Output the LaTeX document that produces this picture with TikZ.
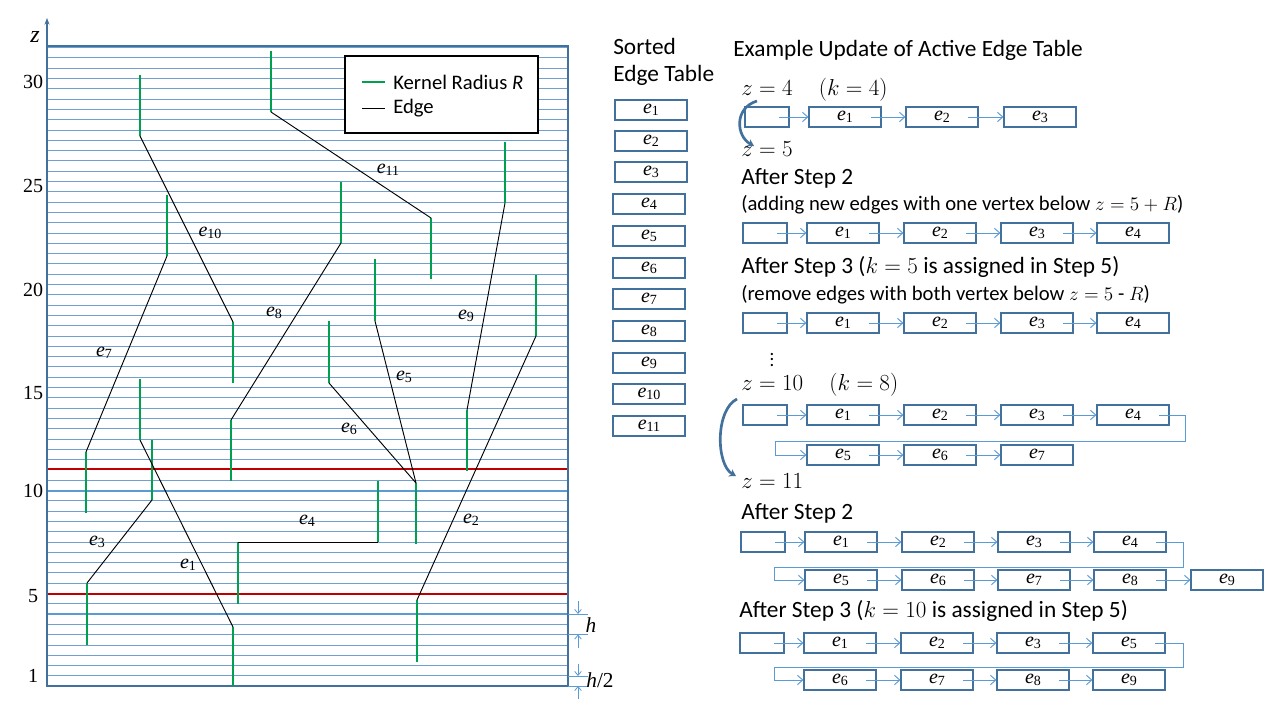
\documentclass[tikz,border=0pt]{standalone}
\usepackage{fontspec}
\setmainfont{Carlito}
\newfontfamily\tms{Liberation Serif}
\usetikzlibrary{arrows.meta}
\definecolor{gridc}{HTML}{6FA0D0}
\definecolor{framec}{HTML}{41719C}
\definecolor{thickb}{HTML}{5B9BD5}
\definecolor{redc}{HTML}{C00000}
\definecolor{greenc}{HTML}{00A050}
\newcommand\ee[1]{{\tms\fontsize{15}{15}\selectfont\itshape e\/}\raisebox{-0.35ex}{\tms\fontsize{10.5}{11}\selectfont #1}}
\tikzset{
 ebox/.style={draw=framec,line width=0.8pt,minimum width=54pt,minimum height=15pt,inner sep=0pt},
 hbox/.style={ebox,minimum width=33pt},
 arr/.style={draw=thickb,line width=0.7pt,-{Straight Barb[length=4pt,width=7pt]}},
 curv/.style={draw=framec,line width=2pt,-{Stealth[length=5pt,width=6pt]}},
 kr/.style={draw=greenc,line width=0.8pt},
 edg/.style={draw=black,line width=0.7pt},
 elab/.style={},
 txt/.style={font=\fontsize{17.5}{19}\selectfont,anchor=west,inner sep=0pt},
 stxt/.style={font=\fontsize{15.5}{17}\selectfont,anchor=west,inner sep=0pt},
 mtxt/.style={font=\fontsize{16}{17}\selectfont,anchor=west,inner sep=0pt},
 num/.style={font=\tms\fontsize{15}{15}\selectfont},
 harr/.style={draw=thickb,line width=0.6pt,-{Straight Barb[length=3pt,width=5pt]}},
}
\newcommand\lrow[3]{\foreach \cx/\lab [count=\i] in {#3} {\node[ebox] (#1\i) at (\cx,#2) {\ee{\lab}};}}
\begin{document}
\begin{tikzpicture}[x=0.75pt,y=-0.75pt]
\useasboundingbox[fill=white] (0,0) rectangle (1280,720);
% grid
\foreach \k in {0,...,62} {\draw[gridc,line width=0.35pt] (47,686-10.3*\k) -- (568,686-10.3*\k);}
\draw[thickb,line width=2.2pt] (47,491) -- (568,491);
\draw[thickb,line width=2.2pt] (47,614) -- (568,614);
\draw[redc,line width=2.2pt] (47,469) -- (568,469);
\draw[redc,line width=2.2pt] (47,594) -- (568,594);
\draw[framec,line width=1.5pt] (47,46) rectangle (568,686);
\coordinate (ax0) at (47,686); \coordinate (ax1) at (47,18);
\draw[framec,line width=1pt,-{Stealth[length=5pt]}] (ax0) -- (ax1);
\node[font=\tms\fontsize{18}{18}\itshape\selectfont] (zl) at (35,37) {z};
\foreach \v/\y in {30/82,25/186,20/290,15/393,10/491,5/596,1/676} {\node[num] (n\v) at (33,\y) {\v};}
% h marks
\foreach \y in {614,634.5,676,686} {\draw[thickb,line width=0.6pt] (568,\y) -- (588,\y);}
\coordinate (ha) at (578,601); \coordinate (hb) at (578,614);
\coordinate (hc) at (578,648); \coordinate (hd) at (578,634.5);
\coordinate (hh1) at (578,664); \coordinate (hh2) at (578,676);
\coordinate (hh3) at (578,699); \coordinate (hh4) at (578,686);
\draw[harr] (ha) -- (hb); \draw[harr] (hc) -- (hd);
\draw[harr] (hh1) -- (hh2); \draw[harr] (hh3) -- (hh4);
\node[font=\tms\fontsize{16}{16}\itshape\selectfont] (hl) at (591,625) {h};
\node[font=\tms\fontsize{16}{16}\selectfont] (h2l) at (600,680) {\itshape h\upshape/2};
% kernel radius (green)
\foreach \x/\a/\b in {140/379/440, 233/627/686, 87/583/645, 152/440/500, 86/452/513, 167/195/256,
 140/75/136, 233/322/383, 231/420/481, 341/182/243, 271/51/112, 431/218/279, 467/410/471, 505/142/203,
 417/600/662, 536/275/336, 238/542/604, 378/481/542, 375/259/321, 416/483/544, 329/321/383}
 {\draw[kr] (\x,\a) -- (\x,\b);}
% edges
\foreach \xa/\ya/\xb/\yb in {140/440/233/627, 87/583/152/500, 86/452/167/256, 140/136/233/322,
 231/420/341/243, 271/112/431/218, 467/410/505/203, 417/600/536/336, 238/542/378/542,
 375/321/416/483, 329/383/416/483}
 {\draw[edg] (\xa,\ya) -- (\xb,\yb);}
\foreach \i/\x/\y in {1/188/565, 2/471/520, 3/97/542, 4/307/521, 5/404/377, 6/349/429, 7/104/353, 8/274/313, 9/466/316, 10/210/233, 11/388/170}
 {\node[elab] (el\i) at (\x,\y) {\ee{\i}};}
% legend
\draw[black,line width=0.8pt,fill=white] (345,56) rectangle (538,133);
\draw[kr] (362,82) -- (385,82); \draw[edg] (362,108) -- (385,108);
\node[txt,font=\fontsize{15.5}{16}\selectfont] (lg1) at (393,82) {Kernel Radius \textit{R}};
\node[txt,font=\fontsize{15.5}{16}\selectfont] (lg2) at (393,108) {Edge};
% sorted table
\node[txt] (st1) at (613,46) {Sorted};
\node[txt] (st2) at (613,75) {Edge Table};
\foreach \i/\x/\y in {1/651/110,2/651/141,3/651/172,4/649/204,5/649/236,6/649/268,7/649/299,8/649/331,9/649/363,10/649/394,11/649/426}
 {\node[ebox] (s\i) at (\x,\y) {\ee{\i}};}
% active table
\node[txt] (t0) at (733,50) {Example Update of Active Edge Table};
\node[mtxt] (t1) at (741,90) {$z=4\quad\ (k=4)$};
\node[mtxt] (t2) at (741,149) {$z=5$};
\coordinate (c1a) at (757,101); \coordinate (c1b) at (754,146);
\draw[curv] (c1a) .. controls (734,108) and (736,136) .. (c1b);
\node[hbox] (a0) at (767,117) {}; \lrow{a}{117}{845/1,942/2,1040/3}
\foreach \p/\q in {0/1,1/2,2/3} {\draw[arr] ([xshift=-8pt]a\p.east) -- (a\q.west);}
\node[txt] (t3) at (741,178) {After Step 2};
\node[stxt] (t4) at (741,205) {(adding new edges with one vertex below $z=5+R$)};
\node[hbox] (b0) at (765,233) {}; \lrow{b}{233}{843/1,940/2,1037/3,1133/4}
\foreach \p/\q in {0/1,1/2,2/3,3/4} {\draw[arr] ([xshift=-8pt]b\p.east) -- (b\q.west);}
\node[txt] (t5) at (741,267) {After Step 3 ($k=5$ is assigned in Step 5)};
\node[stxt] (t6) at (741,295) {(remove edges with both vertex below $z=5$ - $R$)};
\node[hbox] (c0) at (765,323) {}; \lrow{c}{323}{843/1,940/2,1037/3,1133/4}
\foreach \p/\q in {0/1,1/2,2/3,3/4} {\draw[arr] ([xshift=-8pt]c\p.east) -- (c\q.west);}
\node[font=\fontsize{14}{14}\selectfont] (dots) at (772,356) {$\vdots$};
\node[mtxt] (t7) at (741,385) {$z=10\quad\ (k=8)$};
\node[mtxt] (t8) at (741,481) {$z=11$};
\coordinate (c2a) at (737,399); \coordinate (c2b) at (736,476);
\draw[curv] (c2a) .. controls (715,410) and (716,465) .. (c2b);
\node[hbox] (d0) at (765,415) {}; \lrow{d}{415}{843/1,940/2,1037/3,1133/4}
\foreach \p/\q in {0/1,1/2,2/3,3/4} {\draw[arr] ([xshift=-8pt]d\p.east) -- (d\q.west);}
\lrow{dd}{455}{843/5,940/6,1037/7}
\foreach \p/\q in {1/2,2/3} {\draw[arr] ([xshift=-8pt]dd\p.east) -- (dd\q.west);}
\draw[arr] ([xshift=-8pt]d4.east) -- (1185,415) -- (1185,441) -- (775,441) |- (dd1.west);
\node[txt] (t9) at (741,513) {After Step 2};
\node[hbox] (f0) at (763,542) {}; \lrow{f}{542}{841/1,938/2,1034/3,1130/4}
\foreach \p/\q in {0/1,1/2,2/3,3/4} {\draw[arr] ([xshift=-8pt]f\p.east) -- (f\q.west);}
\lrow{ff}{580}{841/5,938/6,1034/7,1130/8,1227/9}
\foreach \p/\q in {1/2,2/3,3/4,4/5} {\draw[arr] ([xshift=-8pt]ff\p.east) -- (ff\q.west);}
\draw[arr] ([xshift=-8pt]f4.east) -- (1183,542) -- (1183,567) -- (774,567) |- (ff1.west);
\node[txt] (t10) at (739,611) {After Step 3 ($k=10$ is assigned in Step 5)};
\node[hbox] (g0) at (762,643) {}; \lrow{g}{643}{840/1,937/2,1033/3,1129/5}
\foreach \p/\q in {0/1,1/2,2/3,3/4} {\draw[arr] ([xshift=-8pt]g\p.east) -- (g\q.west);}
\lrow{gg}{680}{840/6,937/7,1033/8,1129/9}
\foreach \p/\q in {1/2,2/3,3/4} {\draw[arr] ([xshift=-8pt]gg\p.east) -- (gg\q.west);}
\draw[arr] ([xshift=-8pt]g4.east) -- (1183,643) -- (1183,667) -- (774,667) |- (gg1.west);
\end{tikzpicture}
\end{document}
